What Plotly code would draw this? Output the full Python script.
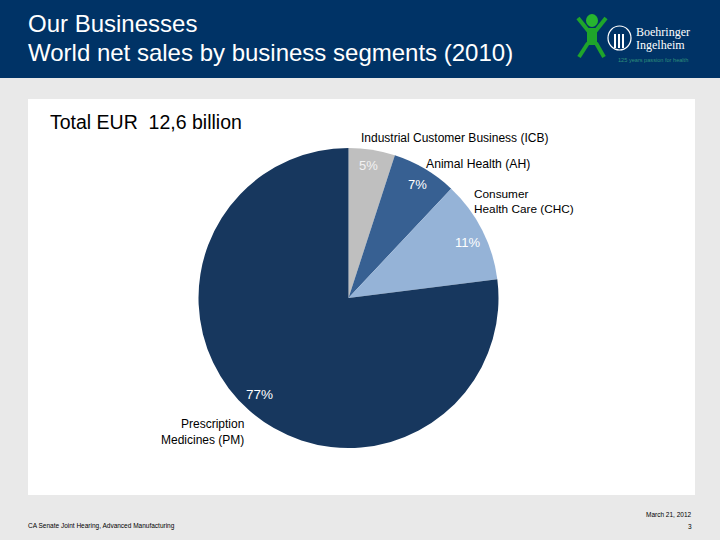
import plotly.graph_objects as go

W, H = 720, 540
FONT = "Liberation Sans"

# Daten
segments = ["Industrial Customer Business (ICB)", "Animal Health (AH)",
            "Consumer<br>Health Care (CHC)", "Prescription<br>Medicines (PM)"]
shares = [5, 7, 11, 77]
colors = ["#BFBFBF", "#376092", "#95B3D7", "#17375E"]
title_lines = ["Our Businesses", "World net sales by business segments (2010)"]
total_label = "Total EUR  12,6 billion"
footer_left = "CA Senate Joint Hearing, Advanced Manufacturing"
footer_date = "March 21, 2012"
footer_page = "3"
logo_lines = ["Boehringer", "Ingelheim"]
logo_claim = "125 years passion for health"

HEADER = "#003366"
GREEN = "#1FA52B"


def px_x(x):
    return x / W


def px_y(y):
    return 1 - y / H


fig = go.Figure(go.Pie(
    labels=segments, values=shares, sort=False, direction="clockwise", rotation=0,
    marker=dict(colors=colors, line=dict(width=0)), textinfo="none", hoverinfo="label+percent",
    domain=dict(x=[px_x(198.5), px_x(498.5)], y=[px_y(448), px_y(148)]),
    showlegend=False,
))


def text(x, y, s, size, color="#000000", anchor="left", family=FONT):
    fig.add_annotation(x=px_x(x), y=px_y(y), xref="paper", yref="paper", text=s, showarrow=False,
                       xanchor=anchor, yanchor="middle", align=anchor, borderpad=0, borderwidth=0,
                       font=dict(family=family, size=size, color=color))


def add_rect(kind, x0, y0, x1, y1, fill, line=None):
    fig.add_shape(type=kind, xref="paper", yref="paper", layer="below",
                  x0=px_x(x0), x1=px_x(x1), y0=px_y(y0), y1=px_y(y1),
                  fillcolor=fill, line=line or dict(width=0))


def add_line(x0, y0, x1, y1, color, width):
    fig.add_shape(type="line", xref="paper", yref="paper", layer="below",
                  x0=px_x(x0), x1=px_x(x1), y0=px_y(y0), y1=px_y(y1),
                  line=dict(color=color, width=width))


# Hintergrundflaechen
add_rect("rect", 0, 0, 720, 78, HEADER)
add_rect("rect", 28, 99, 695, 495, "#FFFFFF")

# Logo: Figur
add_line(578, 18, 590, 33, GREEN, 4)
add_line(606, 18, 594, 33, GREEN, 4)
add_line(588, 43, 579, 57, GREEN, 4)
add_line(596, 43, 604, 57, GREEN, 4)
add_rect("rect", 587, 28, 597, 45, GREEN)
add_rect("circle", 586, 14, 598, 27, "#27B52F")

# Logo: Kreis mit Saeulen
add_rect("circle", 608, 26, 631, 50, "rgba(0,0,0,0)", dict(color="#FFFFFF", width=1.2))
for x in [615, 619, 623]:
    add_line(x, 34, x, 48, "#FFFFFF", 2)

text(28, 24, title_lines[0], 24, "#FFFFFF")
text(28, 53, title_lines[1], 24, "#FFFFFF")
text(50, 122, total_label, 19.5)

text(361, 138, segments[0], 12)
text(426, 164, segments[1], 12.2)
text(474, 201, segments[2], 11.8)
text(244, 432, segments[3], 12, anchor="right")

text(369, 165, f"{shares[0]}%", 13, "#F2F2F2", anchor="center")
text(417, 184, f"{shares[1]}%", 13, "#FFFFFF", anchor="center")
text(467, 243, f"{shares[2]}%", 13, "#FFFFFF", anchor="center")
text(259, 394, f"{shares[3]}%", 13.5, "#FFFFFF", anchor="center")

text(636, 32, logo_lines[0], 12, "#FFFFFF", family="Liberation Serif")
text(636, 45, logo_lines[1], 12, "#FFFFFF", family="Liberation Serif")
text(618, 60, logo_claim, 5.6, "#2E8F7A")

text(28, 526, footer_left, 6.5)
text(692, 514, footer_date, 6.5, anchor="right")
text(692, 526, footer_page, 6.5, anchor="right")

fig.update_layout(width=W, height=H, margin=dict(l=0, r=0, t=0, b=0), autosize=False,
                  paper_bgcolor="#E9E9E9", plot_bgcolor="#E9E9E9",
                  font=dict(family=FONT))

fig.write_html("out.html", config=dict(displayModeBar=False),
               post_script="document.body.style.margin='0';")
